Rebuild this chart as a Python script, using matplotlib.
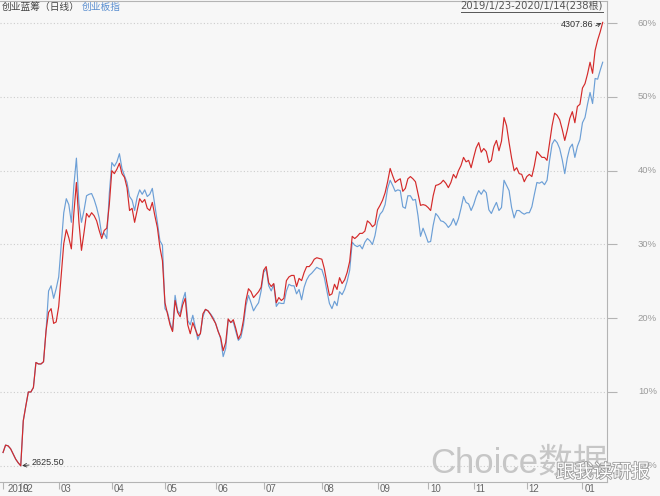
import numpy
import matplotlib
matplotlib.use("Agg")
import matplotlib.pyplot as plt
import matplotlib.transforms as mtransforms
import matplotlib.patheffects as pe
from matplotlib.lines import Line2D

# 创业板指 (blue) and 创业蓝筹 (red), % change, one value per trading day
blue_vals = [
    1.8, 2.8, 2.7, 2.3, 1.6, 0.9, 0.4, 0.0, 6.1, 8.1,
    10.0, 10.0, 10.6, 14.0, 13.8, 13.8, 14.1, 18.3, 23.7, 24.4,
    22.7, 24.0, 25.6, 29.9, 34.3, 36.2, 35.4, 33.0, 38.0, 41.7,
    35.5, 33.0, 34.6, 36.6, 36.8, 36.9, 36.1, 35.0, 33.6, 31.3,
    31.5, 30.8, 36.9, 41.1, 40.6, 41.2, 42.3, 40.3, 39.3, 38.4,
    36.5, 36.0, 34.6, 36.4, 37.4, 36.8, 37.4, 36.5, 36.8, 37.6,
    35.3, 33.0, 30.5, 29.9, 21.3, 20.8, 19.4, 18.3, 23.1, 21.0,
    20.6, 22.4, 23.5, 19.7, 19.1, 20.4, 18.7, 17.1, 18.0, 20.2,
    21.2, 21.0, 20.6, 20.1, 19.3, 18.3, 17.2, 14.8, 15.9, 19.8,
    19.5, 19.5, 18.2, 17.0, 17.4, 19.0, 21.7, 23.1, 22.1, 21.0,
    21.6, 22.1, 23.7, 26.2, 26.7, 24.4, 23.7, 24.6, 21.6, 22.1,
    22.0, 22.0, 23.7, 24.6, 24.4, 24.4, 23.3, 23.9, 22.5, 24.2,
    25.2, 25.8, 26.1, 26.5, 26.9, 26.7, 26.6, 25.5, 23.7, 22.0,
    21.3, 22.3, 21.7, 23.6, 23.2, 23.9, 25.0, 26.5, 30.3, 29.9,
    29.7, 29.9, 29.4, 30.3, 30.8, 30.5, 30.0, 31.2, 33.1, 34.1,
    34.5, 35.4, 37.6, 38.7, 38.0, 37.2, 37.4, 37.3, 35.1, 34.9,
    36.6, 36.6, 36.0, 36.1, 33.9, 31.1, 32.2, 31.3, 30.3, 30.4,
    32.6, 34.2, 33.8, 33.2, 33.1, 32.8, 32.3, 32.7, 33.5, 32.6,
    33.5, 34.9, 36.5, 35.7, 35.5, 34.6, 35.4, 36.5, 37.3, 36.8,
    37.4, 37.0, 34.7, 34.2, 35.0, 35.7, 34.6, 35.0, 38.7, 38.0,
    37.3, 35.0, 33.6, 34.6, 34.6, 34.3, 34.1, 34.3, 34.3, 35.1,
    36.8, 38.4, 38.3, 38.5, 38.1, 38.7, 41.4, 43.6, 44.2, 43.8,
    43.0, 41.5, 39.6, 41.7, 43.1, 43.6, 41.8, 43.3, 44.2, 46.5,
    47.2, 49.0, 50.6, 49.1, 52.5, 52.4, 53.6, 54.7,
]
red_vals = [
    1.8, 2.8, 2.7, 2.3, 1.6, 0.9, 0.4, 0.0, 6.1, 8.1,
    10.0, 10.0, 10.6, 14.0, 13.8, 13.8, 14.1, 18.3, 20.8, 21.3,
    19.3, 19.5, 21.6, 25.8, 30.1, 32.0, 30.9, 29.4, 34.3, 38.4,
    33.0, 29.2, 31.6, 34.2, 33.7, 34.3, 33.9, 33.2, 31.9, 30.8,
    31.9, 32.2, 35.4, 40.0, 39.6, 40.2, 41.0, 39.6, 39.1, 37.7,
    34.6, 34.9, 33.0, 34.6, 36.2, 35.7, 36.1, 34.9, 34.6, 35.7,
    33.9, 32.3, 29.6, 27.8, 22.1, 20.6, 19.1, 18.2, 22.4, 20.8,
    20.2, 21.8, 22.7, 19.1, 17.9, 19.4, 18.5, 17.6, 17.9, 20.6,
    21.2, 21.0, 20.5, 19.9, 19.3, 18.2, 17.4, 15.6, 16.7, 19.9,
    19.4, 19.8, 18.6, 17.2, 17.9, 19.7, 22.4, 24.0, 23.6, 22.8,
    23.2, 23.6, 24.2, 26.5, 27.0, 24.8, 24.3, 24.7, 22.1, 22.8,
    22.4, 22.7, 25.1, 25.6, 25.8, 25.8, 24.3, 25.4, 25.1, 26.2,
    27.0, 27.0, 27.4, 28.0, 28.2, 28.1, 28.0, 26.7, 24.8, 23.1,
    23.3, 24.6, 23.9, 25.5, 24.7, 25.2, 26.2, 27.7, 31.1, 30.8,
    31.1, 31.5, 31.5, 31.8, 33.2, 32.9, 32.4, 32.7, 34.7, 35.3,
    36.0, 37.0, 38.5, 40.3, 39.3, 38.4, 38.7, 38.9, 37.2, 37.6,
    38.9, 39.2, 38.9, 38.5, 36.9, 35.3, 35.4, 35.3, 35.0, 34.6,
    36.6, 38.0, 38.1, 38.3, 38.7, 38.3, 37.7, 38.4, 39.5, 39.0,
    40.0, 40.7, 41.8, 41.2, 41.4, 40.4, 41.8, 43.1, 43.8, 42.5,
    43.0, 42.6, 41.1, 41.4, 43.3, 44.1, 42.7, 44.0, 47.2, 46.1,
    43.8, 41.7, 40.0, 40.4, 39.6, 39.5, 38.5, 39.2, 39.5, 39.2,
    40.7, 42.6, 42.2, 41.8, 41.8, 41.4, 43.7, 46.1, 47.8, 47.5,
    46.9, 45.6, 44.1, 45.5, 47.1, 48.0, 46.5, 48.7, 49.0, 51.2,
    51.8, 53.1, 54.7, 53.2, 56.3, 57.7, 58.8, 60.1,
]

# first trading day of each month (index into the series)
month_days = [0, 7, 22, 43, 64, 84, 103, 126, 148, 168, 186, 207, 229]
month_labels = ["2019", "02", "03", "04", "05", "06", "07", "08", "09",
                "10", "11", "12", "01"]
pct_ticks = [0, 10, 20, 30, 40, 50, 60]
pct_labels = ["{}%".format(p) for p in pct_ticks]

low_label = "2625.50"
high_label = "4307.86"
title_main = "创业蓝筹（日线）"
title_cmp = "创业板指"
range_text = "2019/1/23-2020/1/14(238根)"

BG = "#f7f7f7"
RED = "#d42a2a"
BLUE = "#6c9fd6"
AXC = "#b4b4b4"
CJK = ["Noto Sans CJK SC", "DejaVu Sans"]
NUM = ["Liberation Sans", "DejaVu Sans"]


def main():
    fig = plt.figure(figsize=(6.6, 4.96), dpi=100, facecolor=BG)
    ax = fig.add_axes([0.0, 14 / 496, 607 / 660, 481 / 496])
    ax.set_facecolor(BG)

    days = numpy.arange(len(blue_vals))
    ax.plot(days, blue_vals, color=BLUE, lw=0.85)
    ax.plot(days, red_vals, color=RED, lw=0.85)

    ax.set_xlim(-1.2, 238.7)
    ax.set_ylim(-2.2, 63.0)

    ax.spines["left"].set_visible(False)
    for s in ["right", "bottom", "top"]:
        ax.spines[s].set_color(AXC)
        ax.spines[s].set_linewidth(0.8)

    # y axis on the right, labels placed by hand
    ax.yaxis.tick_right()
    ax.set_yticks(pct_ticks)
    ax.set_yticklabels([""] * len(pct_ticks))
    ax.tick_params(axis="y", direction="out", length=7, color=AXC, width=0.8)
    ax.grid(axis="y", linestyle=(0, (1, 2)), color="#cdcdcd", lw=0.8)
    ylab_tr = mtransforms.blended_transform_factory(fig.transFigure, ax.transData)
    for p, lab in zip(pct_ticks, pct_labels):
        ax.text(657 / 660, p, lab, transform=ylab_tr, ha="right", va="center",
                fontsize=6.8, color="#9a9a9a", family=NUM)

    # month ticks at the bottom, labels right of the tick
    ax.set_xticks(month_days)
    ax.set_xticklabels([""] * len(month_days))
    ax.tick_params(axis="x", direction="out", length=5, color=AXC, width=0.8)
    xlab_tr = mtransforms.offset_copy(ax.get_xaxis_transform(), fig=fig,
                                      x=2, y=-2, units="dots")
    for d, lab in zip(month_days, month_labels):
        ax.text(d + (1.0 if d == 0 else 0), 0, lab, transform=xlab_tr,
                ha="left", va="top", fontsize=7, color="#666666", family=NUM)

    # min / max markers
    i_min = int(numpy.argmin(blue_vals))
    ax.annotate(low_label, xy=(i_min, blue_vals[i_min]), xytext=(8, 2),
                textcoords="offset points", ha="left", va="center",
                fontsize=6.5, color="#333333", family=NUM,
                arrowprops=dict(arrowstyle="->", lw=0.6, color="#333333",
                                shrinkA=0, shrinkB=1, relpos=(0, 0.3)))
    i_max = int(numpy.argmax(red_vals))
    ax.annotate(high_label, xy=(i_max, red_vals[i_max]), xytext=(-7, -1.5),
                textcoords="offset points", ha="right", va="center",
                fontsize=6.5, color="#333333", family=NUM,
                arrowprops=dict(arrowstyle="->", lw=0.6, color="#333333",
                                shrinkA=0, shrinkB=1, relpos=(1, 0.2)))

    # header
    t1 = fig.text(2 / 660, 1 - 7 / 496, title_main, ha="left", va="center",
                  fontsize=7, color="#444444", family=CJK)
    fig.canvas.draw()
    bb = t1.get_window_extent()
    fig.text((bb.x1 + 2) / 660, 1 - 7 / 496, title_cmp, ha="left", va="center",
             fontsize=7, color="#5b8fd0", family=CJK)
    t3 = fig.text(603 / 660, 1 - 6 / 496, range_text, ha="right", va="center",
                  fontsize=7.2, color="#555555",
                  family=["DejaVu Sans", "Noto Sans CJK SC"])
    fig.canvas.draw()
    bb = t3.get_window_extent()
    fig.add_artist(Line2D([bb.x0, bb.x1], [bb.y0 - 0.5, bb.y0 - 0.5],
                          transform=mtransforms.IdentityTransform(),
                          color="#555555", lw=0.7))

    # watermark
    fig.text(430 / 660, 1 - 463 / 496, "Choice数据", ha="left", va="center",
             fontsize=25, color="#c6c6c6",
             family=["Liberation Sans", "Noto Sans CJK SC"])
    fig.text(556 / 660, 1 - 472 / 496, "跟我读研报", ha="left", va="center",
             fontsize=13.5, color="white", family=CJK,
             path_effects=[pe.withStroke(linewidth=1.2, foreground="#9a9a9a")])

    fig.savefig("out.png", dpi=100, facecolor=BG)


if __name__ == "__main__":
    main()
